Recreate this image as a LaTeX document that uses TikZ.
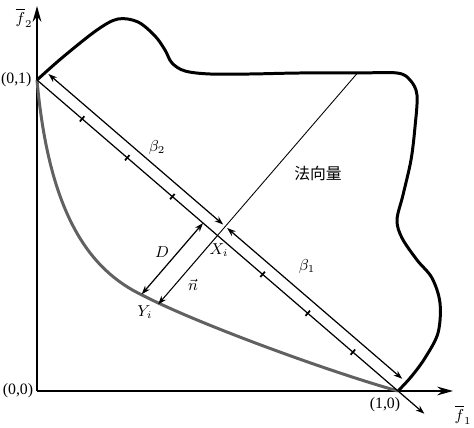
\documentclass[tikz,border=0pt]{standalone}
\usepackage{fontspec}
\setmainfont{Liberation Serif}
\newfontfamily\cjk{Noto Sans CJK SC}
\usetikzlibrary{calc}
\usetikzlibrary{positioning}
\usetikzlibrary{arrows.meta}
\tikzset {
    bound/.style = {line width=1.7pt, line join=round},
    front/.style = {line width=1.7pt, draw=black!62},
    axis/.style = {line width=0.9pt, -{Stealth[length=9pt,width=5pt]}},
    dim/.style = {line width=0.7pt, {Stealth[length=5pt,width=3.5pt]}-{Stealth[length=5pt,width=3.5pt]}},
    lab/.style = {inner sep=1pt, font=\fontsize{9}{11}\selectfont}
    %tick/.style={line width=0.9pt}
}

\begin{document}
\begin{tikzpicture}[x=0.02cm, y=-0.02cm, every node/.style={lab}]
	\useasboundingbox (0,0) rectangle (474,428);
	\coordinate (o) at (37,391);
	\coordinate (a) at (37,80);
	\coordinate (b) at (398,391);
	\coordinate (ytop) at (37,6);
	\coordinate (xend) at (453,391);
	% axes
	\draw[axis] (o) -- (ytop);
	\draw[axis] (o) -- (xend);
	\node (l00) [left=1pt of o] {(0,0)};
	\node (l01) [left=2pt of a] {(0,1)};
	\node (l10) at (385,405) {(1,0)};
	\node (f1) at (463,415) {$\overline{f}_1$};
	\node (f2) at (24,18) {$\overline{f}_2$};
	% feasible region
	\draw[bound] plot[smooth, tension=0.55] coordinates {(37,80) (63,57) (97,30) (118,19) (138,22) (155,36) (165,50) (172,63) (185,71) (210,74) (250,74) (300,73) (357,73) (397,73) (410,80) (417,95) (415,127) (411,160) (403,195) (397,220) (402,238) (417,260) (432,278) (440,303) (438,333) (425,358) (411,377) (398,391)};
	% front
	\draw[front] (a) .. controls (49,215) and (90,270) .. (142,295) .. controls (198,324) and (330,372) .. (b);
	% diagonal
	\coordinate (x) at ($(a)!0.5!(b)$);
	\coordinate (c) at ($(a)!1.073!(b)$);
	\draw[line width=0.7pt, -{Stealth[length=5pt,width=3.5pt]}] (a) -- (c);
	\foreach \t in {0.125,0.25,0.375,0.625,0.75,0.875}
		\draw[line width=1pt] ($(a)!\t!(b)!0.07cm!90:(b)$) -- ($(a)!\t!(b)!0.07cm!-90:(b)$);
	\coordinate (u1) at ($(a)!0.01!(b)!0.24cm!90:(b)$);
	\coordinate (u2) at ($(a)!0.494!(b)!0.24cm!90:(b)$);
	\coordinate (u3) at ($(a)!0.505!(b)!0.24cm!90:(b)$);
	\coordinate (u4) at ($(a)!0.99!(b)!0.24cm!90:(b)$);
	\draw[dim] (u1) -- (u2);
	\draw[dim] (u3) -- (u4);
	\node (b2) at (157,148) {$\beta_2$};
	\node (b1) at (307,267) {$\beta_1$};
	% normal
	\coordinate (n) at ($(x)!4.28cm!90:(b)$);
	\coordinate (e) at ($(x)!1.82cm!-90:(b)$);
	\draw[line width=0.5pt] (n) -- (x);
	\draw[line width=0.6pt, -{Stealth[length=5pt,width=3.5pt]}] (x) -- (e);
	\node (nv) at (318,173) {\cjk 法向量};
	\node (lx) at (219,250) {$X_i$};
	\node (ln) at (193,285) {$\vec{n}$};
	% distance
	\coordinate (d) at ($(a)!0.46!(b)$);
	\coordinate (y) at ($(d)!1.88cm!-90:(b)$);
	\draw[dim] (d) -- (y);
	\node (ld) at (162,252) {$D$};
	\node (ly) at (145,312) {$Y_i$};
\end{tikzpicture}
\end{document}
